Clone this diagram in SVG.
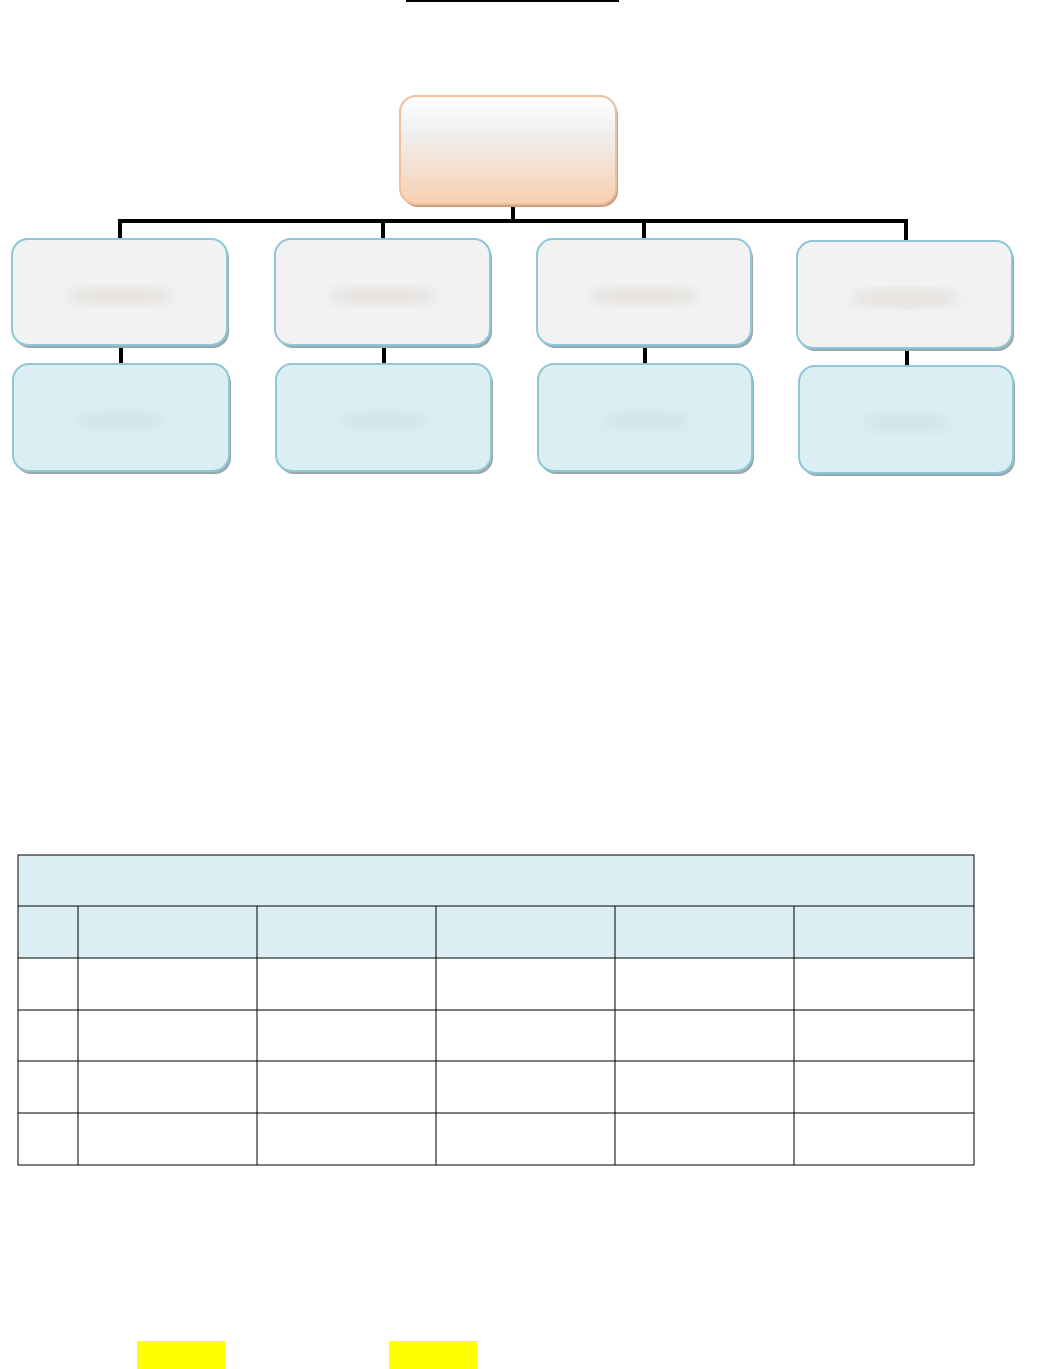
<svg xmlns="http://www.w3.org/2000/svg" width="1058" height="1369" viewBox="0 0 1058 1369">
<style>
.mgr{fill:#f2f2f2;stroke:#8ec7d6;stroke-width:2}
.dep{fill:#dbeef3;stroke:#8ec7d6;stroke-width:2}
.sh{fill:#98a8ad}
.ln{stroke:#000;stroke-width:4;fill:none}
.t{fill:none;stroke:#000;stroke-width:1}
</style>
<defs>
<linearGradient id="g1" x1="0" y1="0" x2="0" y2="1">
<stop offset="0" stop-color="#ffffff"/><stop offset="0.35" stop-color="#efefef"/><stop offset="1" stop-color="#f9cfb0"/>
</linearGradient>
<filter id="bl"><feGaussianBlur stdDeviation="6"/></filter>
</defs>
<line x1="406" y1="1" x2="619" y2="1" stroke="#000" stroke-width="2"/>
<g id="connectors">
<path class="ln" d="M513 204V221M120 239V221H906V241M383 221V239M644 221V239"/>
<path class="ln" d="M121 345V364M384 345V364M645 345V364M907 348V366"/>
</g>
<g id="top"><rect x="402" y="99" width="216" height="108" rx="16" fill="#c9a184"/><rect x="400" y="96" width="216" height="108" rx="16" fill="url(#g1)" stroke="#f0c09c" stroke-width="2"/></g>
<g id="m1"><rect class="sh" x="14" y="242" width="215" height="106" rx="16"/><rect class="mgr" x="12" y="239" width="215" height="106" rx="16"/><ellipse cx="120" cy="296" rx="55" ry="10" fill="#e6e3e0" filter="url(#bl)"/></g>
<g id="m2"><rect class="sh" x="277" y="242" width="215" height="106" rx="16"/><rect class="mgr" x="275" y="239" width="215" height="106" rx="16"/><ellipse cx="383" cy="296" rx="55" ry="10" fill="#e6e3e0" filter="url(#bl)"/></g>
<g id="m3"><rect class="sh" x="539" y="242" width="214" height="106" rx="16"/><rect class="mgr" x="537" y="239" width="214" height="106" rx="16"/><ellipse cx="644" cy="296" rx="55" ry="10" fill="#e6e3e0" filter="url(#bl)"/></g>
<g id="m4"><rect class="sh" x="799" y="244" width="215" height="107" rx="16"/><rect class="mgr" x="797" y="241" width="215" height="107" rx="16"/><ellipse cx="905" cy="298" rx="55" ry="10" fill="#e6e3e0" filter="url(#bl)"/></g>
<g id="d1"><rect class="sh" x="15" y="367" width="216" height="107" rx="16"/><rect class="dep" x="13" y="364" width="216" height="107" rx="16"/><ellipse cx="121" cy="421" rx="45" ry="10" fill="#d0e5ea" filter="url(#bl)"/></g>
<g id="d2"><rect class="sh" x="278" y="367" width="215" height="107" rx="16"/><rect class="dep" x="276" y="364" width="215" height="107" rx="16"/><ellipse cx="384" cy="421" rx="45" ry="10" fill="#d0e5ea" filter="url(#bl)"/></g>
<g id="d3"><rect class="sh" x="540" y="367" width="214" height="107" rx="16"/><rect class="dep" x="538" y="364" width="214" height="107" rx="16"/><ellipse cx="645" cy="421" rx="45" ry="10" fill="#d0e5ea" filter="url(#bl)"/></g>
<g id="d4"><rect class="sh" x="801" y="369" width="214" height="107" rx="16"/><rect class="dep" x="799" y="366" width="214" height="107" rx="16"/><ellipse cx="906" cy="423" rx="45" ry="10" fill="#d0e5ea" filter="url(#bl)"/></g>
<g id="table">
<rect x="18" y="855" width="956" height="103" fill="#dbeef3"/>
<rect class="t" x="18" y="855" width="956" height="310"/>
<path class="t" d="M18 906H974M18 958H974M18 1010H974M18 1061H974M18 1113H974M78 906V1165M257 906V1165M436 906V1165M615 906V1165M794 906V1165"/>
</g>
<rect x="137" y="1341" width="88" height="28" fill="#ffff00"/>
<rect x="389" y="1341" width="88" height="28" fill="#ffff00"/>
</svg>
